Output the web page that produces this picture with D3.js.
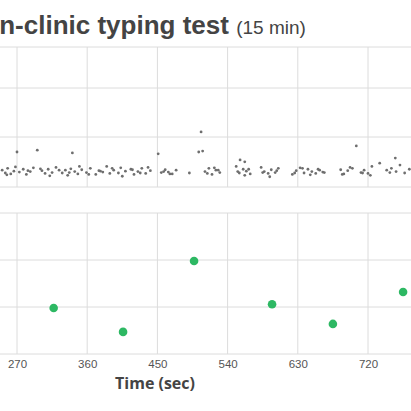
<!DOCTYPE html>
<html><head><meta charset="utf-8">
<script src="https://cdn.jsdelivr.net/npm/d3@7"></script>
<style>body{margin:0;background:#fff}</style>
</head><body>
<script>
// grey keystroke dots (time in sec, value)
var greyT = [251,255,258,262,266,273,278,282,287,291,302,306,310,315,320,328,332,335,339,344,348,353,359,364,371,375,380,385,389,394,400,403,409,416,420,425,430,435,441,455,460,464,469,474,491,511,516,520,525,530,551,555,560,564,569,583,587,592,596,601,605,623,628,633,638,643,648,653,658,664,685,689,694,700,711,715,720,725,744,750,756,761,767,773,
  257,268,284,300,312,324,337,350,362,377,392,405,418,428,438,458,466,514,523,528,553,562,567,585,594,603,626,636,646,656,662,687,697,713,723,748,
  270,296,341,451,506,503,508,556,562,705,755,735];
var greyV = [.36,.30,.40,.28,.34,.32,.38,.27,.33,.41,.35,.29,.38,.31,.42,.30,.36,.25,.39,.33,.28,.37,.31,.40,.27,.35,.32,.44,.29,.36,.30,.41,.34,.38,.27,.33,.40,.29,.35,.31,.37,.32,.28,.36,.30,.33,.40,.27,.36,.31,.44,.30,.38,.34,.28,.42,.33,.29,.37,.31,.40,.27,.35,.41,.30,.38,.33,.29,.36,.31,.37,.28,.35,.40,.31,.36,.29,.44,.36,.40,.33,.47,.30,.38,
  .26,.43,.35,.39,.24,.36,.31,.44,.27,.34,.40,.23,.37,.30,.42,.33,.28,.29,.41,.36,.33,.25,.38,.31,.22,.35,.30,.40,.26,.38,.32,.27,.42,.30,.25,.31,
  .75,.79,.73,.71,1.18,.75,.77,.58,.54,.88,.62,.51];
// green test scores
var greenT = [317,406,497,597,675,765];
var greenV = [0.98,0.47,1.98,1.06,0.64,1.32];
var xTicks = [270,360,450,540,630,720];
var topLines = [187,137,88,47];

var W = 411, H = 411;
var svg = d3.select('body').append('svg').attr('width', W).attr('height', H)
  .style('font-family', 'Liberation Sans, Arial, sans-serif');

var x = d3.scaleLinear().domain([270, 720]).range([17, 368]);
var yTop = d3.scaleLinear().domain([0, 3]).range([187, 47]);
var yBot = d3.scaleLinear().domain([0, 3]).range([354, 213]);

function grid(hs, y0, y1) {
  var g = svg.append('g');
  g.selectAll('line.v').data(xTicks).enter().append('line')
    .attr('x1', d => x(d)).attr('x2', d => x(d)).attr('y1', y0).attr('y2', y1)
    .attr('stroke', '#dcdcdc').attr('stroke-width', 1);
  g.selectAll('line.h').data(hs).enter().append('line')
    .attr('x1', 0).attr('x2', W).attr('y1', d => d).attr('y2', d => d)
    .attr('stroke', '#dcdcdc').attr('stroke-width', 1);
}
grid(topLines, 47, 187);
grid([0,1,2,3].map(yBot), 213, 354);

svg.append('g').selectAll('circle').data(greyT).enter().append('circle')
  .attr('cx', d => x(d)).attr('cy', (d, i) => yTop(greyV[i])).attr('r', 1.4)
  .attr('fill', '#6e6e6e');

svg.append('g').selectAll('circle').data(greenT).enter().append('circle')
  .attr('cx', d => x(d)).attr('cy', (d, i) => yBot(greenV[i])).attr('r', 4.3)
  .attr('fill', '#2db863');

svg.append('g').attr('transform', 'translate(0,354)')
  .call(d3.axisBottom(x).tickValues(xTicks).tickSize(0).tickPadding(6))
  .call(g => g.select('.domain').remove())
  .selectAll('text').attr('font-size', 11.5).attr('fill', '#555')
  .style('font-family', 'Liberation Sans, Arial, sans-serif');

svg.append('text').attr('x', 155).attr('y', 389).attr('text-anchor', 'middle')
  .attr('font-size', 16).attr('font-weight', 'bold').attr('fill', '#444')
  .style('font-family', 'Open Sans, sans-serif').text('Time (sec)');

var title = svg.append('text').attr('x', -8).attr('y', 34).attr('fill', '#444');
title.append('tspan').attr('font-size', 26).attr('font-weight', 'bold').text('In-clinic typing test ');
title.append('tspan').attr('font-size', 19).text('(15 min)');
</script>
</body></html>
